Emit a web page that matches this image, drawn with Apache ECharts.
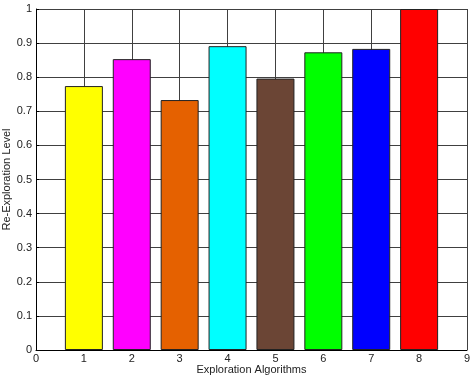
<!DOCTYPE html>
<html>
<head>
<meta charset="utf-8">
<script src="https://cdn.jsdelivr.net/npm/echarts@6/dist/echarts.min.js"></script>
<style>
  html, body { margin: 0; padding: 0; background: #fff; }
  #main { width: 474px; height: 378px; }
</style>
</head>
<body>
<div id="main"></div>
<script>
var algorithms = [1, 2, 3, 4, 5, 6, 7, 8];
var levels = [0.774, 0.853, 0.733, 0.891, 0.796, 0.873, 0.883, 1.0];
var barColors = ["#ffff00", "#ff00ff", "#e56100", "#00ffff", "#6b4535", "#00ff00", "#0000ff", "#ff0000"];

var myChart = echarts.init(document.getElementById("main"));

var barData = algorithms.map(function (a, i) {
  return {
    value: [a, levels[i]],
    itemStyle: { color: barColors[i] },
  };
});

var option = {
  backgroundColor: "#fff",
  animation: false,
  grid: {
    left: 36,
    right: 7,
    top: 9,
    bottom: 28,
    containLabel: false,
    outerBoundsMode: "none",
  },
  xAxis: {
    type: "value",
    min: 0,
    max: 9,
    interval: 1,
    name: "Exploration Algorithms",
    nameLocation: "middle",
    nameGap: 14,
    nameMoveOverlap: false,
    nameTextStyle: {
      color: "#222",
      fontFamily: "Liberation Sans",
      fontSize: 11,
    },
    axisLine: { show: true, lineStyle: { color: "#000", width: 1 } },
    axisTick: { show: false },
    axisLabel: {
      color: "#222",
      fontFamily: "Liberation Sans",
      fontSize: 11,
      margin: 3,
    },
    splitLine: { show: true, lineStyle: { color: "#404040", width: 1 } },
  },
  yAxis: {
    type: "value",
    min: 0,
    max: 1,
    interval: 0.1,
    name: "Re-Exploration Level",
    nameLocation: "middle",
    nameGap: 24,
    nameMoveOverlap: false,
    nameTextStyle: {
      color: "#222",
      fontFamily: "Liberation Sans",
      fontSize: 11,
    },
    axisLine: { show: true, lineStyle: { color: "#000", width: 1 } },
    axisTick: { show: true, inside: true, length: 3, lineStyle: { color: "#000" } },
    axisLabel: {
      color: "#222",
      fontFamily: "Liberation Sans",
      fontSize: 11,
      margin: 4,
      formatter: function (v) {
        return String(Math.round(v * 10) / 10);
      },
    },
    splitLine: { show: true, lineStyle: { color: "#404040", width: 1 } },
  },
  series: [
    {
      type: "bar",
      barWidth: 38,
      data: barData,
      itemStyle: {
        borderColor: "#222",
        borderWidth: 1,
      },
    },
  ],
};
myChart.setOption(option);
</script>
</body>
</html>
